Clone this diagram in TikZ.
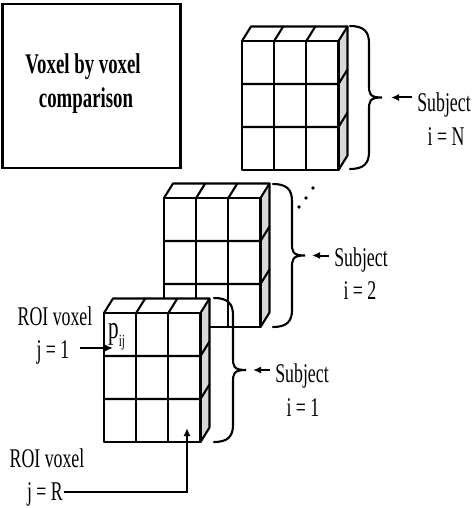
\documentclass[tikz,border=0pt]{standalone}
\usepackage{fontspec}
\usetikzlibrary{arrows.meta,calc}
\newfontfamily\lblfont{Liberation Serif}[FakeStretch=0.66]
\definecolor{sidegray}{RGB}{216,216,216}
\tikzset{
 lbl/.style={inner sep=0pt, anchor=base, font=\lblfont\fontsize{27}{30}\selectfont},
 ttl/.style={inner sep=0pt, anchor=base, font=\lblfont\bfseries\fontsize{28.5}{32}\selectfont},
 vxline/.style={line width=2.1pt, line join=round, line cap=round},
 arr/.style={line width=2pt, -{Latex[length=8pt,width=7pt]}},
 bracestyle/.style={line width=2.1pt, line cap=round},
 framebox/.style={draw, line width=2.7pt, minimum width=178pt, minimum height=164pt, inner sep=0pt},
}
\newcommand\voxblock[3]{%
\begin{scope}[shift={(#1,#2)}]
 \coordinate (#3) at (0,0);
 \fill[white] (0,0) -- (9,-14.5) -- (105.5,-14.5) -- (96.5,0) -- cycle;
 \fill[white] (0,0) rectangle (96.5,129);
 \fill[sidegray] (96.5,0) -- (105.5,-14.5) -- (105.5,114.5) -- (96.5,129) -- cycle;
 \draw[vxline] (0,0) rectangle (96.5,129);
 \draw[vxline] (0,0) -- (9,-14.5) -- (105.5,-14.5) -- (105.5,114.5) -- (96.5,129);
 \draw[vxline] (105.5,-14.5) -- (96.5,0);
 \foreach \c in {32.17,64.33} { \draw[vxline] (\c,0) -- (\c,129); \draw[vxline] (\c,0) -- ++(9,-14.5); }
 \foreach \r in {43,86} { \draw[vxline] (0,\r) -- (96.5,\r) -- ++(9,-14.5); }
\end{scope}}
\newcommand\subjbrace[4]{%
 \pgfmathsetmacro\bxa{#1+19}\pgfmathsetmacro\bxb{#1+32}%
 \pgfmathsetmacro\bxc{#1+13}%
 \pgfmathsetmacro\bym{(#2+#3)/2}%
 \pgfmathsetmacro\byt{#2+17}\pgfmathsetmacro\byb{#3-17}%
 \pgfmathsetmacro\byta{#2+5}\pgfmathsetmacro\bybb{#3-5}%
 \pgfmathsetmacro\bymu{\bym-13}\pgfmathsetmacro\bymd{\bym+13}%
 \pgfmathsetmacro\bymua{\bym-4}\pgfmathsetmacro\bymda{\bym+4}%
 \draw[bracestyle] (#1,#2) .. controls (\bxc,#2) and (\bxa,\byta) .. (\bxa,\byt) -- (\bxa,\bymu)
   .. controls (\bxa,\bymua) and (\bxa,\bym) .. (\bxb,\bym) .. controls (\bxa,\bym) and (\bxa,\bymda) .. (\bxa,\bymd)
   -- (\bxa,\byb) .. controls (\bxa,\bybb) and (\bxc,#3) .. (#1,#3);
 \coordinate (#4) at (\bxb,\bym);}
\begin{document}
\begin{tikzpicture}[x=1pt,y=-1pt]
\useasboundingbox (0,0) rectangle (474,508);
% title box
\node[framebox] (box) at (91.5,86) {};
\node[ttl] (title1) at (83,74) {Voxel by voxel};
\node[ttl] (title2) at (86,107) {comparison};
% blocks
\voxblock{242}{41}{blkN}
\voxblock{164}{198}{blk2}
\voxblock{104}{313}{blk1}
% braces
\subjbrace{350}{26}{169}{bN}
\subjbrace{273}{184}{327}{b2}
\subjbrace{214}{298}{442}{b1}
% dots
\fill (299,207) circle (1.8pt);
\fill (306,198) circle (1.8pt);
\fill (313,188) circle (1.8pt);
% subject labels
\node[lbl] (subjN1) at (444,111) {Subject};
\node[lbl] (subjN2) at (446,145) {i = N};
\node[lbl] (subj21) at (361,266) {Subject};
\node[lbl] (subj22) at (360,299) {i = 2};
\node[lbl] (subj11) at (302,382) {Subject};
\node[lbl] (subj12) at (303,416) {i = 1};
\draw[arr, shorten <=5pt, shorten >=9pt] (subjN1.west |- bN) -- (bN);
\draw[arr, shorten <=5pt, shorten >=7pt] (subj21.west |- b2) -- (b2);
\draw[arr, shorten <=5pt, shorten >=7pt] (subj11.west |- b1) -- (b1);
% ROI labels
\node[lbl] (roi11) at (55,325) {ROI voxel};
\node[lbl] (roi12) at (53,358) {j = 1};
\node[inner sep=0pt, anchor=base west, font=\lblfont\fontsize{32}{32}\selectfont] (pij) at (108,338) {p\raisebox{-8pt}{\fontsize{17}{17}\selectfont ij}};
\coordinate (c1tip) at (113,348);
\draw[arr, shorten <=10pt] (roi12.east |- c1tip) -- (c1tip);
\node[lbl] (roiR1) at (47,467) {ROI voxel};
\node[lbl] (roiR2) at (45,500) {j = R};
\coordinate (cRbend) at (187,492);
\coordinate (cRtip) at (187,428);
\draw[arr, shorten <=1pt] (roiR2.east |- cRbend) -- (cRbend) -- (cRtip);
\end{tikzpicture}
\end{document}
